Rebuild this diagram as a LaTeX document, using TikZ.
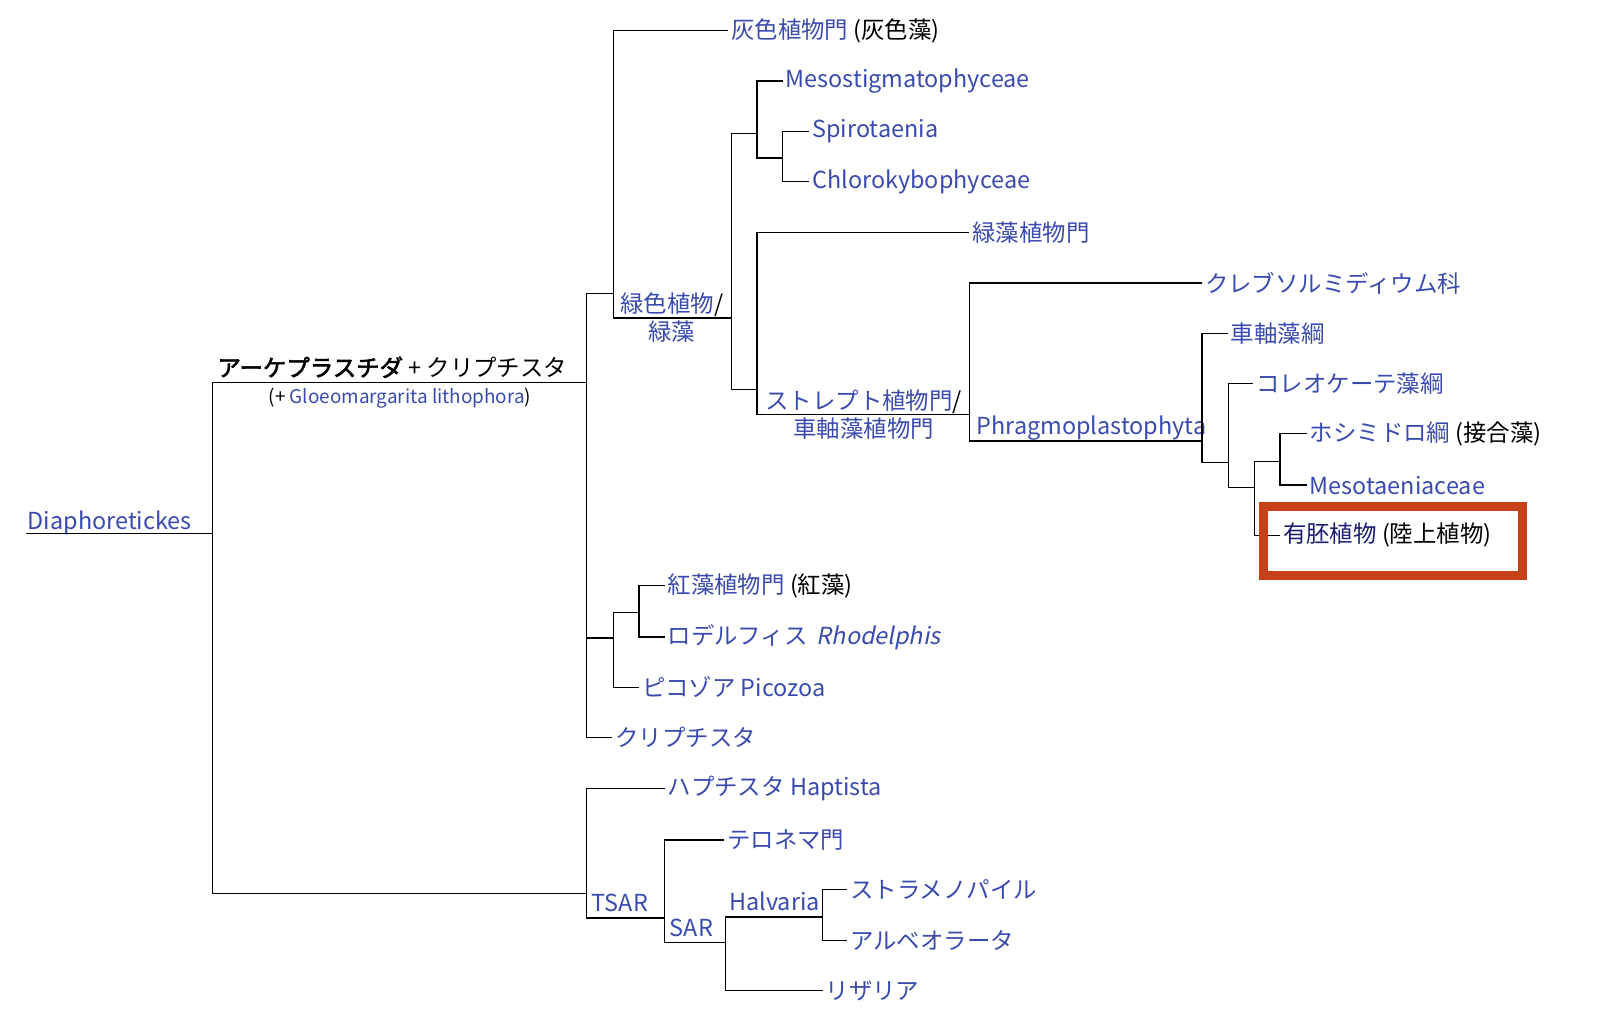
\documentclass[tikz,border=0pt]{standalone}
\usepackage{fontspec}
\setmainfont{Noto Sans CJK JP}[AutoFakeBold=2.5]
\newfontfamily\slantfont{Noto Sans CJK JP}[FakeSlant=0.2]
\definecolor{cladeblue}{HTML}{3A4BB0}
\definecolor{embryonavy}{HTML}{1C1C70}
\definecolor{boxred}{HTML}{C8401A}
\tikzset{
	leaf/.style={anchor=west, inner sep=1.5pt, text=cladeblue, font=\fontsize{13}{15}\selectfont},
	clade/.style={anchor=base west, inner sep=1pt, text=cladeblue, font=\fontsize{13}{15}\selectfont},
	branch/.style={draw=black, line width=0.7pt}
}
\begin{document}
\begin{tikzpicture}[x=0.02cm,y=-0.02cm]
	\useasboundingbox (0,0) rectangle (1560,993);

	% inner branch points
	\coordinate (root) at (207,520);
	\coordinate (arch) at (572,373);
	\coordinate (tsar) at (572,871);
	\coordinate (plant) at (598,286);
	\coordinate (viri) at (713,310);
	\coordinate (meso) at (738,130);
	\coordinate (chlk) at (763,154);
	\coordinate (strep) at (738,380);
	\coordinate (phrag) at (945,404);
	\coordinate (phr2) at (1172,430);
	\coordinate (phr3) at (1198,451);
	\coordinate (phr4) at (1223,475);
	\coordinate (zygn) at (1248,450);
	\coordinate (red) at (598,622);
	\coordinate (rhod) at (623,597);
	\coordinate (sar) at (648,895);
	\coordinate (sar2) at (707,919);
	\coordinate (halv) at (802,894);

	% leaves
	\node[leaf] (glau) at (710,30) {灰色植物門 \textcolor{black}{(灰色藻)}};
	\node[leaf] (mesost) at (763,79) {Mesostigmatophyceae};
	\node[leaf] (spiro) at (789,128) {Spirotaenia};
	\node[leaf] (chloro) at (789,177) {Chlorokybophyceae};
	\node[leaf] (chlph) at (945,227) {緑藻植物門};
	\node[leaf] (klebs) at (1172,276) {クレブソルミディウム科};
	\node[leaf] (chara) at (1197,325) {車軸藻綱};
	\node[leaf] (coleo) at (1222,374) {コレオケーテ藻綱};
	\node[leaf] (zyg) at (1274,423) {ホシミドロ綱 \textcolor{black}{(接合藻)}};
	\node[leaf] (mesot) at (1274,473) {Mesotaeniaceae};
	\node[leaf] (embryo) at (1248,522) {\textcolor{embryonavy}{有胚植物} \textcolor{black}{(陸上植物)}};
	\node[leaf] (rhodo) at (648,571) {紅藻植物門 \textcolor{black}{(紅藻)}};
	\node[leaf] (rhodel) at (648,621) {ロデルフィス \,{\slantfont Rhodelphis}};
	\node[leaf] (pico) at (623,670) {ピコゾア Picozoa};
	\node[leaf] (crypt) at (597,719) {クリプチスタ};
	\node[leaf] (hapt) at (648,769) {ハプチスタ Haptista};
	\node[leaf] (telo) at (706,819) {テロネマ門};
	\node[leaf] (stram) at (826,867) {ストラメノパイル};
	\node[leaf] (alveo) at (826,917) {アルベオラータ};
	\node[leaf] (rhiz) at (802,966) {リザリア};

	% clade labels
	\node[clade] (diap) at (25,516) {Diaphoretickes};
	\node[clade, text=black] (archlab) at (210,367) {\textbf{アーケプラスチダ} + クリプチスタ};
	\node[inner sep=0pt, font=\fontsize{10.5}{12}\selectfont] (gloeo) at (390,388) {(+ \textcolor{cladeblue}{Gloeomargarita lithophora})};
	\node[align=center, inner sep=0pt, text=cladeblue, font=\fontsize{13}{15.5}\selectfont] (virilab) at (655,310) {緑色植物\textcolor{black}{/}\\緑藻};
	\node[align=center, inner sep=0pt, text=cladeblue, font=\fontsize{13}{15.5}\selectfont] (streplab) at (842,404) {ストレプト植物門\textcolor{black}{/}\\車軸藻植物門};
	\node[clade] (phraglab) at (950,424) {Phragmoplastophyta};
	\node[clade] (tsarlab) at (575,889) {TSAR};
	\node[clade] (sarlab) at (651,913) {SAR};
	\node[clade] (halvlab) at (709,888) {Halvaria};

	% branches
	\draw[branch] (root) -- (root -| diap.west);
	\draw[branch] (root) |- (arch);
	\draw[branch] (root) |- (tsar);
	\draw[branch] (arch) |- (plant);
	\draw[branch] (arch) |- (red);
	\draw[branch] (arch) |- (crypt.west);
	\draw[branch] (plant) |- (glau.west);
	\draw[branch] (plant) |- (viri);
	\draw[branch] (viri) |- (meso);
	\draw[branch] (viri) |- (strep);
	\draw[branch] (meso) |- (mesost.west);
	\draw[branch] (meso) |- (chlk);
	\draw[branch] (chlk) |- (spiro.west);
	\draw[branch] (chlk) |- (chloro.west);
	\draw[branch] (strep) |- (chlph.west);
	\draw[branch] (strep) |- (phrag);
	\draw[branch] (phrag) |- (klebs.west);
	\draw[branch] (phrag) |- (phr2);
	\draw[branch] (phr2) |- (chara.west);
	\draw[branch] (phr2) |- (phr3);
	\draw[branch] (phr3) |- (coleo.west);
	\draw[branch] (phr3) |- (phr4);
	\draw[branch] (phr4) |- (zygn);
	\draw[branch] (phr4) |- (embryo.west);
	\draw[branch] (zygn) |- (zyg.west);
	\draw[branch] (zygn) |- (mesot.west);
	\draw[branch] (red) |- (rhod);
	\draw[branch] (red) |- (pico.west);
	\draw[branch] (rhod) |- (rhodo.west);
	\draw[branch] (rhod) |- (rhodel.west);
	\draw[branch] (tsar) |- (hapt.west);
	\draw[branch] (tsar) |- (sar);
	\draw[branch] (sar) |- (telo.west);
	\draw[branch] (sar) |- (sar2);
	\draw[branch] (sar2) |- (halv);
	\draw[branch] (sar2) |- (rhiz.west);
	\draw[branch] (halv) |- (stram.west);
	\draw[branch] (halv) |- (alveo.west);

	\draw[draw=boxred, line width=5pt] (1232,494) rectangle (1484,561);
\end{tikzpicture}
\end{document}
